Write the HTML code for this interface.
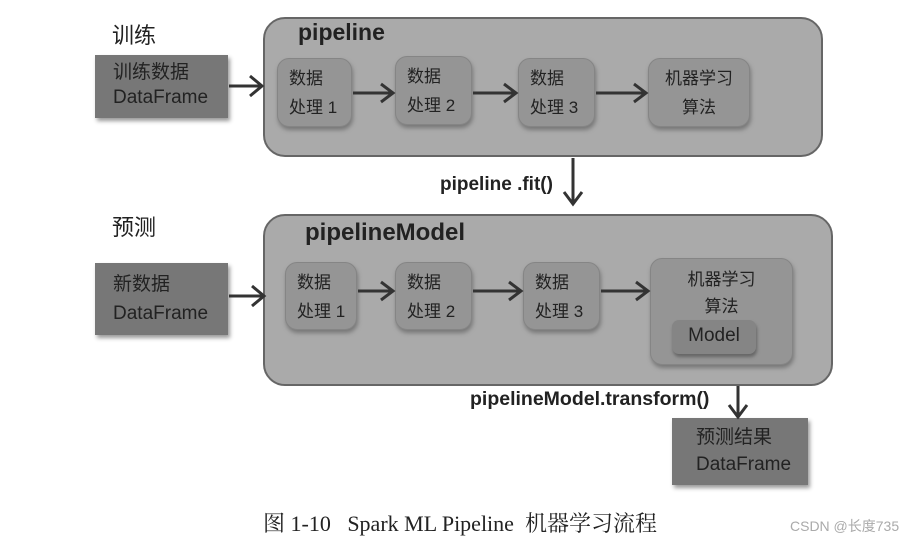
<!DOCTYPE html>
<html><head><meta charset="utf-8"><style>
body{margin:0;width:917px;height:542px;background:#fff;position:relative;overflow:hidden;font-family:"Liberation Sans","Noto Sans CJK SC",sans-serif;color:#222}
.a{position:absolute;box-sizing:border-box}
.cont{background:#aaaaaa;border:2px solid #666;border-radius:22px}
.dark{background:#777;box-shadow:2px 3px 4px #999;font-size:19px;line-height:27px;padding:4px 0 0 18px;color:#222}
.box{background:#959595;border:1px solid #858585;border-radius:12px;box-shadow:1px 3px 4px #777;font-size:17px;line-height:29px;padding:5px 0 0 11px;color:#222}
.t{position:absolute;white-space:nowrap}
</style></head><body>
<div class="t" style="left:112px;top:18px;font-size:22px">训练</div>
<div class="t" style="left:112px;top:210px;font-size:22px">预测</div>

<div class="a dark" style="left:95px;top:55px;width:133px;height:63px;line-height:25px;padding-top:5px">训练数据<br>DataFrame</div>
<div class="a dark" style="left:95px;top:263px;width:133px;height:72px;line-height:29px;padding-top:7px">新数据<br>DataFrame</div>
<div class="a dark" style="left:672px;top:418px;width:136px;height:67px;line-height:27px;padding-top:6px;padding-left:24px">预测结果<br>DataFrame</div>

<div class="a cont" style="left:263px;top:17px;width:560px;height:140px"></div>
<div class="t" style="left:298px;top:19px;font-size:23px;font-weight:bold">pipeline</div>
<div class="a box" style="left:277px;top:58px;width:75px;height:69px">数据<br>处理 1</div>
<div class="a box" style="left:395px;top:56px;width:77px;height:69px">数据<br>处理 2</div>
<div class="a box" style="left:518px;top:58px;width:77px;height:69px">数据<br>处理 3</div>
<div class="a box" style="left:648px;top:58px;width:102px;height:69px;text-align:center;padding-left:0">机器学习<br>算法</div>

<div class="t" style="left:440px;top:174px;font-size:19px;font-weight:bold">pipeline .fit()</div>

<div class="a cont" style="left:263px;top:214px;width:570px;height:172px"></div>
<div class="t" style="left:305px;top:219px;font-size:24px;font-weight:bold">pipelineModel</div>
<div class="a box" style="left:285px;top:262px;width:72px;height:68px">数据<br>处理 1</div>
<div class="a box" style="left:395px;top:262px;width:77px;height:68px">数据<br>处理 2</div>
<div class="a box" style="left:523px;top:262px;width:77px;height:68px">数据<br>处理 3</div>
<div class="a box" style="left:650px;top:258px;width:143px;height:107px;text-align:center;padding-left:0;line-height:27px;padding-top:7px">机器学习<br>算法</div>
<div class="a" style="left:672px;top:320px;width:84px;height:34px;background:#858585;border-radius:7px;box-shadow:1px 3px 3px #666;font-size:19px;text-align:center;line-height:32px">Model</div>

<div class="t" style="left:470px;top:388px;font-size:19.5px;font-weight:bold">pipelineModel.transform()</div>

<svg class="a" style="left:0;top:0" width="917" height="542">
<g stroke="#333" stroke-width="3" fill="none">
<path d="M229 86H262M250 76L262 86L250 96"/>
<path d="M229 296H264M252 286L264 296L252 306"/>
<path d="M353 93H393M381 84L393 93L381 102"/>
<path d="M473 93H516M504 84L516 93L504 102"/>
<path d="M596 93H646M634 84L646 93L634 102"/>
<path d="M358 291H393M381 282L393 291L381 300"/>
<path d="M473 291H521M509 282L521 291L509 300"/>
<path d="M601 291H648M636 282L648 291L636 300"/>
<path d="M573 158V204M564 192L573 204L582 192"/>
<path d="M738 386V417M729 405L738 417L747 405"/>
</g></svg>

<div class="t" style="left:263px;top:507px;font-size:22px;font-family:'Liberation Serif','Noto Serif CJK SC',serif">图 1-10&nbsp;&nbsp;&nbsp;Spark ML Pipeline&nbsp; 机器学习流程</div>
<div class="t" style="left:790px;top:516px;font-size:14px;color:#aaa">CSDN @长度735</div>
</body></html>
